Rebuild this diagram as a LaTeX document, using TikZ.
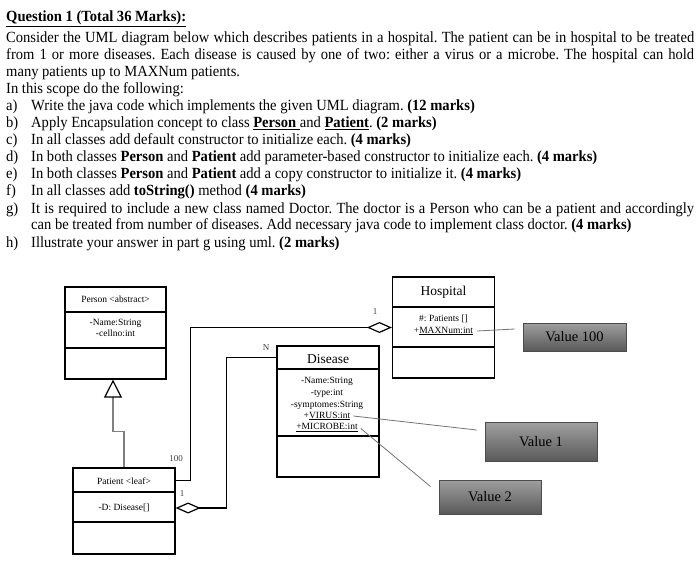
\documentclass[tikz,border=0pt]{standalone}
\usepackage{fontspec}
\setmainfont{Liberation Serif}[FakeStretch=0.94]
\newfontfamily\umlfont{Liberation Serif}
\usetikzlibrary{arrows.meta,calc}
\frenchspacing

\begin{document}
\begin{tikzpicture}[x=1pt,y=-1pt,
	txt/.style={anchor=base west,inner sep=0pt,font=\fontsize{15.5}{17}\selectfont},
	umlbox/.style={draw,line width=1.2pt,inner sep=0pt},
	small/.style={font=\umlfont\fontsize{9.5}{10.5}\selectfont,align=center,inner sep=1pt},
	big/.style={font=\umlfont\fontsize{13.5}{15}\selectfont,inner sep=1pt},
	mult/.style={font=\umlfont\fontsize{9}{10}\selectfont,text=black!75,inner sep=0pt},
	valbox/.style={draw=black!70,line width=0.8pt,top color=black!38,bottom color=black!65,
		font=\umlfont\fontsize{14.5}{16}\selectfont,inner sep=0pt},
	aggr/.style={line width=1.2pt,-{Diamond[open,length=25pt,width=11pt,line width=1.2pt]}},
	inherit/.style={draw=black!50,line width=1.2pt,-{Triangle[open,length=18pt,width=18pt,line width=1.2pt,color=black]}},
	note/.style={draw=black!55,line width=0.8pt}]
\useasboundingbox (0,0) rectangle (700,585);
%question
\node[txt] (title) at (6,22) {\textbf{\underline{Question 1 (Total 36 Marks):}}};
\node[txt,text width=688pt,align=justify] (intro) at (6,43) {Consider the UML diagram below which describes patients in a hospital. The patient can be in hospital to be treated\linebreak
from 1 or more diseases. Each disease is caused by one of two: either a virus or a microbe. The hospital can hold\linebreak
many patients up to MAXNum patients.\\
In this scope do the following:};
\foreach \l/\y in {a/111,b/128,c/145,d/162,e/179,f/196,g/213,h/247}{
	\node[txt] (l\l) at (6,\y) {\l)};
	}
\node[txt] (qa) at (31,111) {Write the java code which implements the given UML diagram. \textbf{(12 marks)}};
\node[txt] (qb) at (31,128) {Apply Encapsulation concept to class \textbf{\underline{Person }}and \textbf{\underline{Patient}}. \textbf{(2 marks)}};
\node[txt] (qc) at (31,145) {In all classes add default constructor to initialize each. \textbf{(4 marks)}};
\node[txt] (qd) at (31,162) {In both classes \textbf{Person} and \textbf{Patient} add parameter-based constructor to initialize each. \textbf{(4 marks)}};
\node[txt] (qe) at (31,179) {In both classes \textbf{Person} and \textbf{Patient} add a copy constructor to initialize it. \textbf{(4 marks)}};
\node[txt] (qf) at (31,196) {In all classes add \textbf{toString()} method \textbf{(4 marks)}};
\node[txt,text width=663pt,align=justify] (qg) at (31,213) {It is required to include a new class named Doctor. The doctor is a Person who can be a patient and accordingly\linebreak
can be treated from number of diseases. Add necessary java code to implement class doctor. \textbf{(4 marks)}};
\node[txt] (qh) at (31,247) {Illustrate your answer in part g using uml. \textbf{(2 marks)}};
%classes
\node[umlbox,minimum width=101pt,minimum height=92pt] (person) at (115.5,333) {};
\draw[line width=1.2pt] (person.west |- 0,312) -- (person.east |- 0,312);
\draw[line width=1.2pt] (person.west |- 0,348) -- (person.east |- 0,348);
\node[small] (pname) at (115.5,299) {Person <abstract>};
\node[small] (pattr) at (115.5,328) {-Name:String\\-cellno:int};

\node[umlbox,minimum width=102pt,minimum height=101pt] (hospital) at (443.5,327.5) {};
\draw[line width=1.2pt] (hospital.west |- 0,307) -- (hospital.east |- 0,307);
\draw[line width=1.2pt] (hospital.west |- 0,347) -- (hospital.east |- 0,347);
\node[big] (hname) at (443.5,292) {Hospital};
\node[small] (hpat) at (443.5,319) {\#: Patients []};
\node[small] (maxnum) at (443.5,331) {+\underline{MAXNum:int}};

\node[umlbox,minimum width=102pt,minimum height=131pt] (disease) at (328,411.5) {};
\draw[line width=1.2pt] (disease.west |- 0,369) -- (disease.east |- 0,369);
\draw[line width=1.2pt] (disease.west |- 0,436) -- (disease.east |- 0,436);
\node[big] (dname) at (328,359) {Disease};
\node[small] (dn) at (327,381) {-Name:String};
\node[small] (dt) at (327,393) {-type:int};
\node[small] (ds) at (327,405) {-symptomes:String};
\node[small] (virus) at (327,416) {+\underline{VIRUS:int}};
\node[small] (microbe) at (327,427.5) {\underline{+MICROBE:int}};

\node[umlbox,minimum width=102pt,minimum height=86pt] (patient) at (124,511) {};
\draw[line width=1.2pt] (patient.west |- 0,492) -- (patient.east |- 0,492);
\draw[line width=1.2pt] (patient.west |- 0,522) -- (patient.east |- 0,522);
\node[small] (tname) at (124,481) {Patient <leaf>};
\node[small] (tattr) at (124,508) {-D: Disease[]};
%relations
\draw[inherit] (patient.north) -- ++(0,-36) -| ([xshift=-2.5pt]person.south);
\draw[aggr] ([yshift=-13pt]patient.north east) -- ++(15,0) |- (hospital.west);
\draw[aggr] ([yshift=-12pt]disease.north west) -- ++(-50,0) |- ([yshift=3pt]patient.east);
\node[mult] (m1) at (375,312) {1};
\node[mult] (mn) at (266,348) {N};
\node[mult] (m100) at (176,459) {100};
\node[mult] (m2) at (182,494) {1};
%values
\node[valbox,minimum width=103pt,minimum height=28pt] (v100) at (574.5,337) {Value 100};
\node[valbox,minimum width=112pt,minimum height=39pt] (v1) at (541,442) {Value 1};
\node[valbox,minimum width=102pt,minimum height=34pt] (v2) at (490,497) {Value 2};
\draw[note] ([xshift=3pt]maxnum.east) -- ([shift={(-8,-8)}]v100.west);
\draw[note] ([xshift=2pt]virus.east) -- ([shift={(-8,-12)}]v1.west);
\draw[note] ([shift={(2pt,-1pt)}]microbe.east) -- ([shift={(-8,7)}]v2.north west);
\end{tikzpicture}
\end{document}
